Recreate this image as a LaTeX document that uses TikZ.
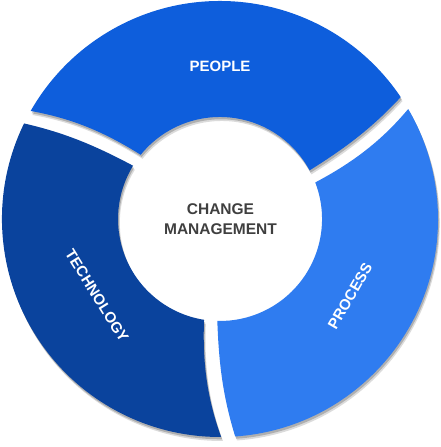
\documentclass[tikz,border=0pt]{standalone}
\usepackage{fontspec}
\setmainfont{Liberation Sans}
\definecolor{peoplec}{HTML}{0E5EDC}
\definecolor{processc}{HTML}{2F7CF0}
\definecolor{techc}{HTML}{0A439D}
\definecolor{centerc}{HTML}{3F3F3F}
% spiral edge from radius #1, angle #2 to radius #3, angle #4
\newcommand{\ringedge}[4]{-- plot[domain=0:1,samples=30,variable=\t] ({(#1+(#3-#1)*\t)*cos(#2+(#4-#2)*\t-0.5*sin(180*\t))},{(#1+(#3-#1)*\t)*sin(#2+(#4-#2)*\t-0.5*sin(180*\t))})}
% ring segment: outer from #1 to #2, inner from #3 back to #4
\newcommand{\ringseg}[4]{(#1:218) arc[start angle=#1,end angle=#2,radius=218] \ringedge{218}{#2}{102}{#3} arc[start angle=#3,end angle=#4,radius=102] \ringedge{102}{#4}{218}{#1} -- cycle}
\tikzset{
  seglabel/.style={text=white,font=\fontsize{15}{17}\selectfont\bfseries,inner sep=0pt},
  centerlabel/.style={text=centerc,font=\fontsize{15.5}{20.3}\selectfont\bfseries,align=center,inner sep=0pt},
  shadowA/.style={fill=black,opacity=0.14},
  shadowB/.style={fill=black,opacity=0.2}
}
\begin{document}
\begin{tikzpicture}[x=1pt,y=1pt]
\useasboundingbox (-220,-228) rectangle (221,219);
% shadows
\begin{scope}[shift={(1.8,-4)}]
  \path[shadowA] \ringseg{34}{150.3}{141}{28.5};
  \path[shadowA] \ringseg{154}{270.3}{261}{148.5};
  \path[shadowA] \ringseg{274}{390.3}{381}{268.5};
\end{scope}
\begin{scope}[shift={(1,-2.3)}]
  \path[shadowB] \ringseg{34}{150.3}{141}{28.5};
  \path[shadowB] \ringseg{154}{270.3}{261}{148.5};
  \path[shadowB] \ringseg{274}{390.3}{381}{268.5};
\end{scope}
% segments
\fill[peoplec] \ringseg{34}{150.3}{141}{28.5};
\fill[techc] \ringseg{154}{270.3}{261}{148.5};
\fill[processc] \ringseg{274}{390.3}{381}{268.5};
% labels
\node[seglabel] (people) at (0,153) {PEOPLE};
\node[seglabel,rotate=60] (process) at (-30.6:151) {PROCESS};
\node[seglabel,rotate=-58] (tech) at (212:145) {TECHNOLOGY};
\node[centerlabel] (center) at (0.5,0) {CHANGE\\MANAGEMENT};
\end{tikzpicture}
\end{document}
